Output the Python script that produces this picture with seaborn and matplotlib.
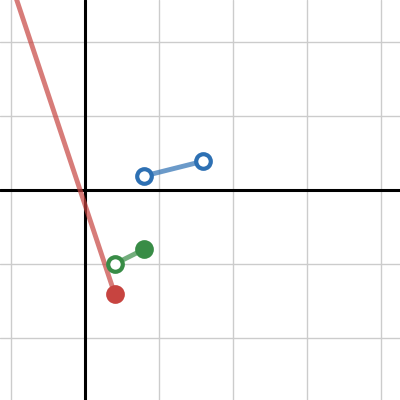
import numpy as np
import pandas as pd
import matplotlib
matplotlib.use('Agg')
import matplotlib.pyplot as plt
import seaborn as sns

sns.set_theme(style='white')

# segments (x, y), grid spacing = 1
blue_x = [0.8, 1.6]
blue_y = [0.19, 0.39]
green_x = [0.4, 0.8]
green_y = [-1.0, -0.8]
red_x = [-1.0, 0.4]
red_y = [2.8, -1.4]

RED, BLUE, GREEN = '#c74440', '#2d70b3', '#388c46'

fig = plt.figure(figsize=(4, 4), dpi=100)
ax = fig.add_axes([0, 0, 1, 1])
ax.set_xlim(-1.149, 4.257)
ax.set_ylim(-2.838, 2.568)

for v in range(-1, 5):
    ax.axvline(v, color='#cccccc', lw=1, zorder=0)
for v in range(-2, 3):
    ax.axhline(v, color='#cccccc', lw=1, zorder=0)
ax.axvline(0, color='black', lw=2.2, zorder=1)
ax.axhline(0, color='black', lw=2.2, zorder=1)

sns.lineplot(x=red_x, y=red_y, color=RED, lw=3.5, alpha=0.7, ax=ax, zorder=2)
sns.lineplot(x=blue_x, y=blue_y, color=BLUE, lw=3.5, alpha=0.7, ax=ax, zorder=2)
sns.lineplot(x=green_x, y=green_y, color=GREEN, lw=3.5, alpha=0.7, ax=ax, zorder=2)

kw = dict(s=110, linewidth=3, zorder=3)
ax.scatter(blue_x, blue_y, facecolor='white', edgecolor=BLUE, **kw)
ax.scatter(green_x[:1], green_y[:1], facecolor='white', edgecolor=GREEN, **kw)
ax.scatter(green_x[1:], green_y[1:], facecolor=GREEN, edgecolor=GREEN, **kw)
ax.scatter(red_x[1:], red_y[1:], facecolor=RED, edgecolor=RED, **kw)

ax.set_xticks([])
ax.set_yticks([])
for s in ax.spines.values():
    s.set_visible(False)

fig.savefig('out.png', dpi=100)
